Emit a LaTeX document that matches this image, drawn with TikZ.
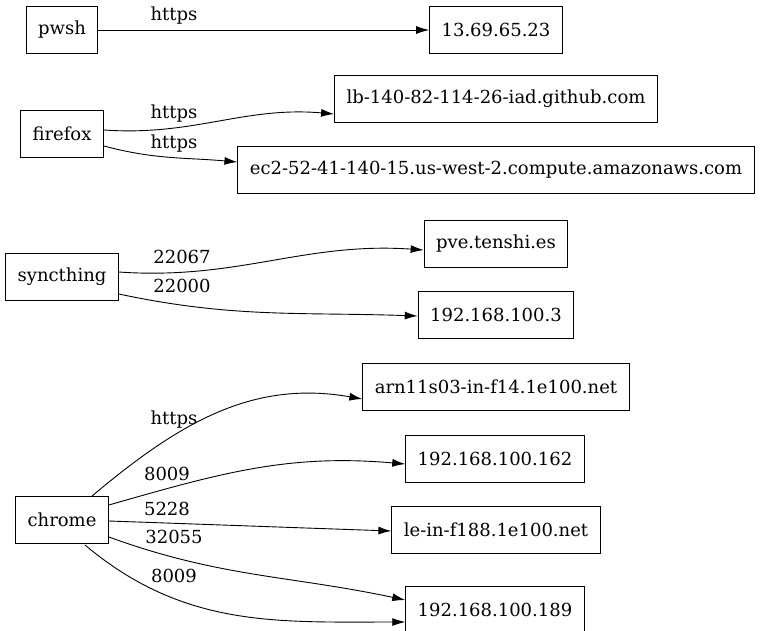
\documentclass[tikz,border=0pt]{standalone}
\usepackage{fontspec}
\setmainfont{DejaVu Serif}
\usetikzlibrary{arrows.meta}
\begin{document}
\begin{tikzpicture}[x=1pt,y=-1pt,line width=0.9pt,
  box/.style={draw,minimum height=47pt,inner xsep=12pt,font=\fontsize{18}{21}\selectfont},
  e/.style={-{Latex[length=13pt,width=8pt]}},
  lab/.style={font=\fontsize{18}{21}\selectfont}]
\useasboundingbox (0,0) rectangle (768,630);
\node[box] (pwsh) at (62,30) {pwsh};
\node[box] (ip1) at (496,30) {13.69.65.23};
\node[box] (ff) at (62,134) {firefox};
\node[box] (lb) at (496,99) {lb-140-82-114-26-iad.github.com};
\node[box] (ec2) at (496,170) {ec2-52-41-140-15.us-west-2.compute.amazonaws.com};
\node[box] (sy) at (62,277) {syncthing};
\node[box] (pve) at (496,244) {pve.tenshi.es};
\node[box] (ip3) at (496,315) {192.168.100.3};
\node[box] (arn) at (496,387) {arn11s03-in-f14.1e100.net};
\node[box] (ip162) at (495,459) {192.168.100.162};
\node[box] (ch) at (62,520) {chrome};
\node[box] (le) at (496,530) {le-in-f188.1e100.net};
\node[box] (ip189) at (495,610) {192.168.100.189};

\draw[e] (pwsh) -- (ip1);
\node[lab] at (174,16) {https};
\draw[e] (ff.east|-0,130) to[out=-4,in=175] (lb.west|-0,114);
\node[lab] at (174,114) {https};
\draw[e] (ff.east|-0,146) to[out=-15,in=175] (ec2.west|-0,162);
\node[lab] at (174,144) {https};
\draw[e] (sy.east|-0,272) to[out=-4,in=176] (pve.west|-0,250);
\node[lab] at (182,257) {22067};
\draw[e] (sy.east|-0,294) to[out=-12,in=178] (ip3.west|-0,316);
\node[lab] at (182,286) {22000};
\draw[e] (92,496) to[out=40,in=170] (arn.west|-0,399);
\node[lab] at (174,420) {https};
\draw[e] (ch.east|-0,505) to[out=16,in=175] (ip162.west|-0,464);
\node[lab] at (167,474) {8009};
\draw[e] (ch.east|-0,521) to[out=-2,in=178] (le.west|-0,531);
\node[lab] at (167,509) {5228};
\draw[e] (ch.east|-0,537) to[out=-20,in=168] (ip189.west|-0,600);
\node[lab] at (174,537) {32055};
\draw[e] (85,545) to[out=-40,in=180] (ip189.west|-0,622);
\node[lab] at (174,576) {8009};
\end{tikzpicture}
\end{document}
